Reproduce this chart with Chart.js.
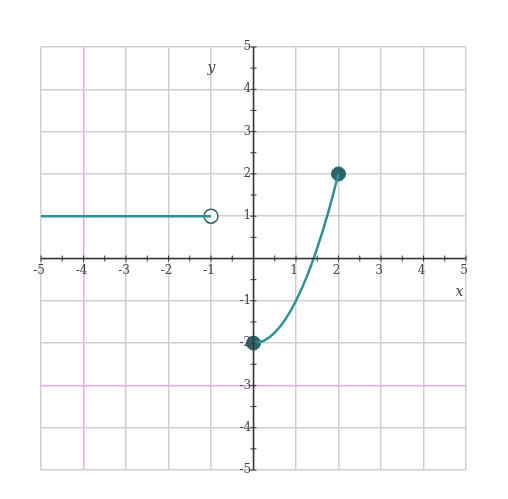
<!DOCTYPE html>
<html><head><meta charset="utf-8">
<script src="https://cdn.jsdelivr.net/npm/chart.js@4"></script>
<style>html,body{margin:0;background:#fff}#c{display:block}</style>
</head><body>
<div style="width:508px;height:499px"><canvas id="c"></canvas></div>
<script>
// piece 1: y = 1 for x < -1
const flatX = [-5, -1];
const flatY = [1, 1];
// piece 2: curve from (0,-2) to (2,2)
const curveX = [0, 0.25, 0.5, 0.75, 1, 1.25, 1.5, 1.75, 2];
const curveY = [-2, -1.94, -1.75, -1.44, -1, -0.44, 0.25, 1.06, 2];
const tickVals = [-5, -4, -3, -2, -1, 1, 2, 3, 4, 5];

const toPts = (xs, ys) => xs.map((x, i) => ({ x, y: ys[i] }));
const teal = '#2b9198', dark = '#2d6468';

const axesPlugin = {
  id: 'axes',
  afterDatasetsDraw(chart) {
    const { ctx, scales: { x, y } } = chart;
    const x0 = x.getPixelForValue(0), y0 = y.getPixelForValue(0);
    ctx.save();
    ctx.strokeStyle = '#333';
    ctx.lineWidth = 1.5;
    ctx.beginPath();
    ctx.moveTo(x.left, y0); ctx.lineTo(x.right, y0);
    ctx.moveTo(x0, y.top); ctx.lineTo(x0, y.bottom);
    ctx.stroke();
    ctx.lineWidth = 1;
    ctx.beginPath();
    for (let v = -5; v <= 5; v += 0.5) {
      const px = x.getPixelForValue(v), py = y.getPixelForValue(v);
      ctx.moveTo(px, y0 - 3); ctx.lineTo(px, y0 + 3);
      ctx.moveTo(x0 - 3, py); ctx.lineTo(x0 + 3, py);
    }
    ctx.stroke();
    ctx.fillStyle = '#444';
    ctx.font = '12px "DejaVu Serif"';
    ctx.textAlign = 'center';
    ctx.textBaseline = 'top';
    tickVals.forEach(v => ctx.fillText(String(v), x.getPixelForValue(v) - 2, y0 + 6));
    ctx.textAlign = 'left';
    ctx.textBaseline = 'middle';
    tickVals.forEach(v => ctx.fillText(String(v), x0 - (v < 0 ? 14 : 10), y.getPixelForValue(v)));
    ctx.font = 'italic 14px "DejaVu Serif"';
    ctx.fillText('y', x0 - 46, y.getPixelForValue(4.5));
    ctx.fillText('x', x.getPixelForValue(4.75), y.getPixelForValue(-0.8));
    ctx.restore();
  }
};

new Chart(document.getElementById('c'), {
  type: 'scatter',
  data: {
    datasets: [
      { data: toPts(flatX, flatY), showLine: true, borderColor: teal, borderWidth: 2.5, pointRadius: 0 },
      { data: toPts(curveX, curveY), showLine: true, borderColor: teal, borderWidth: 2.5, pointRadius: 0, tension: 0.4 },
      { data: [{ x: -1, y: 1 }], pointRadius: 7, pointBackgroundColor: '#fff', pointBorderColor: dark, pointBorderWidth: 1.5 },
      { data: [{ x: 0, y: -2 }, { x: 2, y: 2 }], pointRadius: 7, pointBackgroundColor: dark, pointBorderColor: dark }
    ]
  },
  options: {
    animation: false,
    responsive: true,
    maintainAspectRatio: false,
    layout: { padding: { left: 41, right: 42, top: 47, bottom: 29 } },
    plugins: { legend: { display: false }, tooltip: { enabled: false } },
    scales: {
      x: {
        min: -5, max: 5,
        ticks: { display: false, stepSize: 1 },
        border: { display: false },
        grid: { drawTicks: false, lineWidth: 1.5, color: c => c.tick.value === -4 ? '#e6a8e6' : '#cfcfcf' }
      },
      y: {
        min: -5, max: 5,
        ticks: { display: false, stepSize: 1 },
        border: { display: false },
        grid: { drawTicks: false, lineWidth: 1.5, color: c => c.tick.value === -3 ? '#e6a8e6' : '#cfcfcf' }
      }
    }
  },
  plugins: [axesPlugin]
});
</script>
</body></html>
